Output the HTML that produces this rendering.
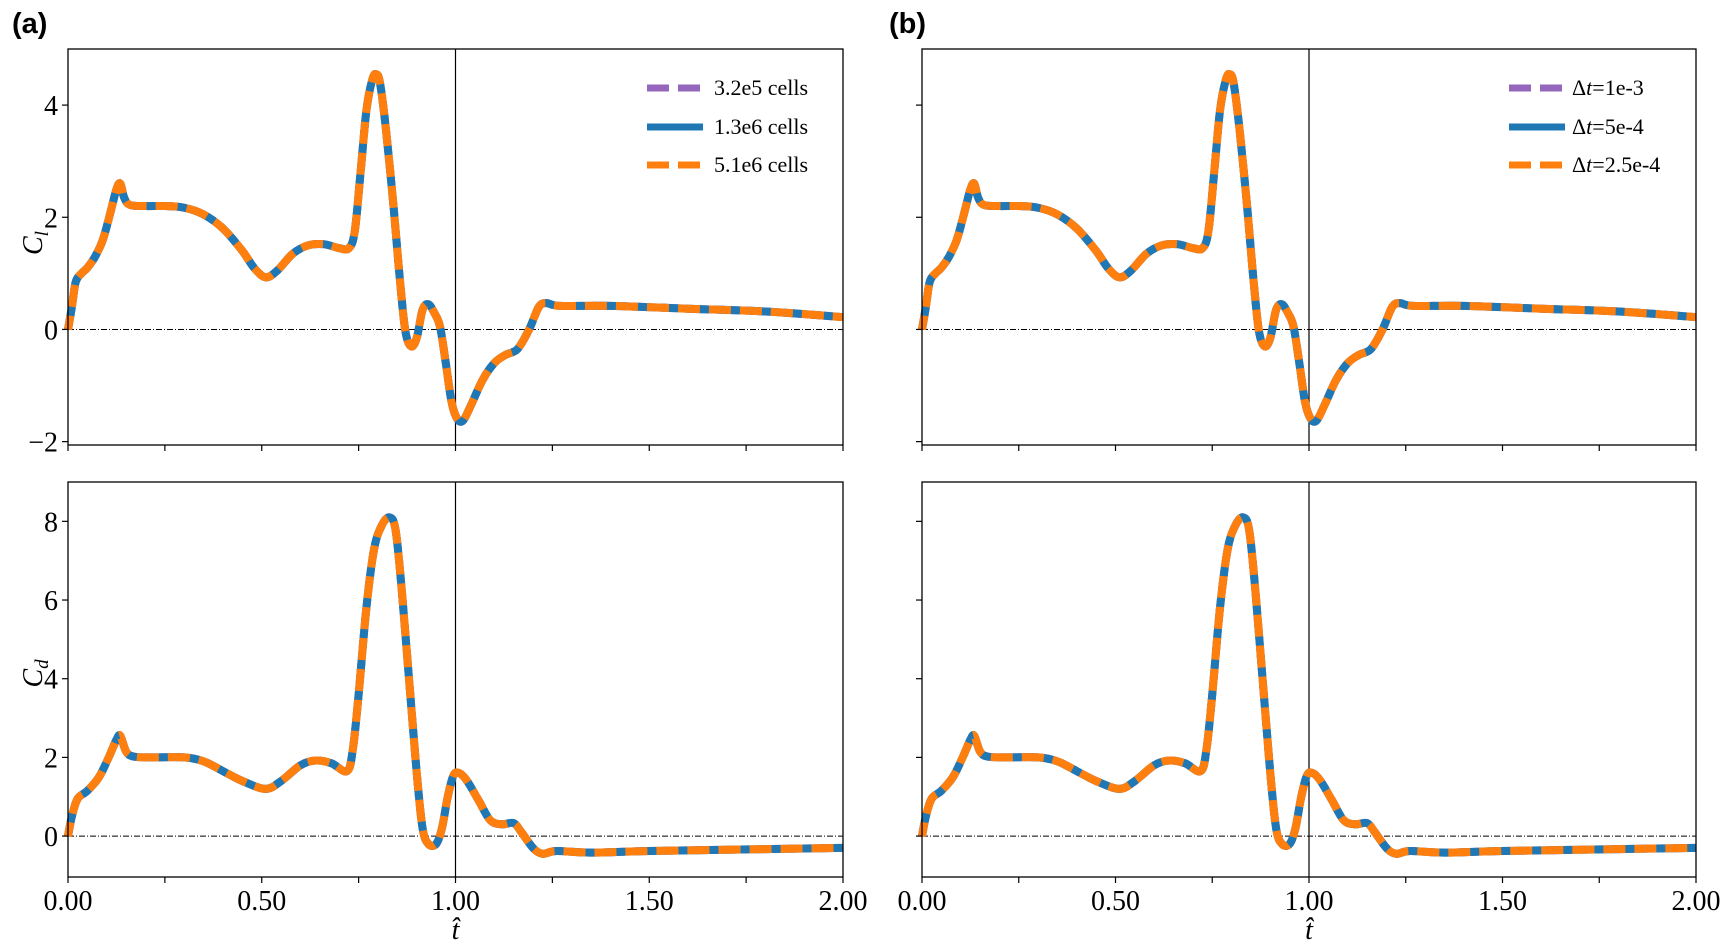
<!DOCTYPE html>
<html><head><meta charset="utf-8"><style>
body{margin:0;background:#fff;}
svg{display:block;font-family:"Liberation Serif",serif;}
</style></head><body>
<svg id="s" width="1725" height="945" viewBox="0 0 1725 945" xmlns="http://www.w3.org/2000/svg">
<text x="12" y="33" font-family="Liberation Sans,sans-serif" font-weight="bold" font-size="29">(a)</text>
<text x="889" y="33" font-family="Liberation Sans,sans-serif" font-weight="bold" font-size="29">(b)</text>
<g id="g"></g>
</svg>
<script>
var NS="http://www.w3.org/2000/svg",g=document.getElementById('g');
function el(t,a,txt){var e=document.createElementNS(NS,t);for(var k in a)e.setAttribute(k,a[k]);if(txt!=null)e.textContent=txt;g.appendChild(e);return e;}
var cl=[[0,0],[0.01,0.4],[0.02,0.85],[0.035,1.0],[0.05,1.1],[0.07,1.3],[0.09,1.6],[0.11,2.1],[0.125,2.5],[0.135,2.6],[0.145,2.35],[0.16,2.22],[0.2,2.2],[0.25,2.2],[0.3,2.17],[0.35,2.05],[0.4,1.8],[0.45,1.4],[0.48,1.1],[0.51,0.93],[0.54,1.05],[0.58,1.35],[0.62,1.5],[0.66,1.52],[0.7,1.45],[0.725,1.45],[0.74,1.75],[0.755,2.8],[0.77,3.9],[0.785,4.45],[0.795,4.55],[0.805,4.4],[0.82,3.6],[0.84,2.2],[0.855,1.0],[0.87,0.0],[0.885,-0.3],[0.9,-0.15],[0.915,0.35],[0.93,0.45],[0.945,0.3],[0.96,0.05],[0.975,-0.6],[0.99,-1.3],[1.005,-1.6],[1.02,-1.62],[1.04,-1.35],[1.07,-0.9],[1.1,-0.6],[1.13,-0.45],[1.16,-0.35],[1.19,0.0],[1.215,0.4],[1.235,0.47],[1.27,0.42],[1.4,0.42],[1.6,0.37],[1.8,0.32],[2.0,0.22]];
var cd=[[0,0],[0.01,0.5],[0.025,0.95],[0.05,1.15],[0.08,1.5],[0.105,2.0],[0.125,2.45],[0.135,2.55],[0.15,2.15],[0.17,2.02],[0.22,2.0],[0.3,2.0],[0.35,1.9],[0.4,1.65],[0.45,1.4],[0.51,1.2],[0.55,1.4],[0.6,1.8],[0.64,1.92],[0.68,1.85],[0.72,1.65],[0.735,2.2],[0.75,3.6],[0.77,5.8],[0.79,7.3],[0.81,7.9],[0.83,8.1],[0.845,7.8],[0.86,6.4],[0.88,4.0],[0.9,1.6],[0.915,0.2],[0.93,-0.2],[0.95,-0.2],[0.965,0.2],[0.98,1.0],[0.995,1.55],[1.01,1.6],[1.03,1.4],[1.06,0.9],[1.09,0.4],[1.12,0.3],[1.15,0.33],[1.17,0.1],[1.2,-0.3],[1.225,-0.45],[1.26,-0.38],[1.35,-0.42],[1.5,-0.38],[1.8,-0.33],[2.0,-0.3]];
function path(d,X,Y){var p=d.map(function(q){return[X(q[0]),Y(q[1])]});var s="M"+p[0][0]+","+p[0][1];
for(var i=0;i<p.length-1;i++){var a=p[Math.max(i-1,0)],b=p[i],c=p[i+1],e=p[Math.min(i+2,p.length-1)];
s+=" C"+(b[0]+(c[0]-a[0])/6)+","+(b[1]+(c[1]-a[1])/6)+" "+(c[0]-(e[0]-b[0])/6)+","+(c[1]-(e[1]-b[1])/6)+" "+c[0]+","+c[1];}return s;}
function axes(x0,x1,y0,y1,ymin,ymax,data,yt,ylab,xlabels,ylabels){
 var X=function(t){return x0+(x1-x0)*t/2},Y=function(v){return y1-(y1-y0)*(v-ymin)/(ymax-ymin)};
 el('line',{x1:x0,x2:x1,y1:Y(0),y2:Y(0),stroke:'#000','stroke-width':1,'stroke-dasharray':'6,2,1,2'});
 el('line',{x1:X(1),x2:X(1),y1:y0,y2:y1,stroke:'#000','stroke-width':1.2});
 var d=path(data,X,Y);
 el('path',{d:d,fill:'none',stroke:'#9467bd','stroke-width':8,'stroke-dasharray':'22,9'});
 el('path',{d:d,fill:'none',stroke:'#1f77b4','stroke-width':8});
 el('path',{d:d,fill:'none',stroke:'#ff7f0e','stroke-width':8,'stroke-dasharray':'22,9','stroke-dashoffset':'8'});
 el('rect',{x:x0,y:y0,width:x1-x0,height:y1-y0,fill:'none',stroke:'#000','stroke-width':1.3});
 for(var t=0;t<=2.001;t+=0.25){el('line',{x1:X(t),x2:X(t),y1:y1,y2:y1+6,stroke:'#000','stroke-width':1.2});
  if(xlabels&&Math.abs(t*2-Math.round(t*2))<1e-6)el('text',{x:X(t),y:y1+33,'font-size':28,'text-anchor':'middle'},t.toFixed(2));}
 yt.forEach(function(v){el('line',{x1:x0-6,x2:x0,y1:Y(v),y2:Y(v),stroke:'#000','stroke-width':1.2});
  if(ylabels)el('text',{x:x0-10,y:Y(v)+10,'font-size':28,'text-anchor':'end'},v<0?'\u2212'+(-v):''+v);});
 if(ylabels){var t=el('text',{x:0,y:0,'font-size':28,'font-style':'italic',transform:'translate(42,'+((y0+y1)/2+8)+') rotate(-90)'},'C');
  var ts=document.createElementNS(NS,'tspan');ts.setAttribute('font-size','19');ts.setAttribute('dy','6');ts.textContent=ylab;t.appendChild(ts);}
 if(xlabels)el('text',{x:X(1),y:y1+62,'font-size':28,'font-style':'italic','text-anchor':'middle'},'t\u0302');
}
[[68,843,true],[922,1696,false]].forEach(function(p){
 axes(p[0],p[1],49,445,-2.06,5.0,cl,[-2,0,2,4],'l',false,p[2]);
 axes(p[0],p[1],482,877,-1.04,9.0,cd,[0,2,4,6,8],'d',true,p[2]);
});
function legend(lx,tx,labels){var ys=[88,127,165];
 el('line',{x1:lx,x2:lx+56,y1:ys[0],y2:ys[0],stroke:'#9467bd','stroke-width':7,'stroke-dasharray':'22,9'});
 el('line',{x1:lx,x2:lx+56,y1:ys[1],y2:ys[1],stroke:'#1f77b4','stroke-width':7});
 el('line',{x1:lx,x2:lx+56,y1:ys[2],y2:ys[2],stroke:'#ff7f0e','stroke-width':7,'stroke-dasharray':'22,9'});
 labels.forEach(function(l,i){var t=el('text',{x:tx,y:ys[i]+7,'font-size':22},null);t.innerHTML=l;});}
legend(647,714,['3.2e5 cells','1.3e6 cells','5.1e6 cells']);
legend(1509,1572,['\u0394<tspan font-style="italic">t</tspan>=1e-3','\u0394<tspan font-style="italic">t</tspan>=5e-4','\u0394<tspan font-style="italic">t</tspan>=2.5e-4']);
</script>
</body></html>
